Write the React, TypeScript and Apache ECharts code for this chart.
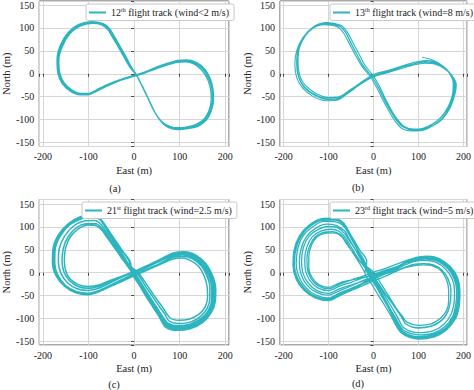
import React, { useEffect, useRef } from 'react';
import * as echarts from 'echarts';

const TEAL = '#2cb4bf';
const FONT = '"Liberation Serif", "DejaVu Serif", serif';

// Axis tick values
const xTicks = [-200, -100, 0, 100, 200];
const yTicks = [-150, -100, -50, 0, 50, 100, 150];

// Legend pieces
const legendNums = ['12', '13', '21', '23'];
const legendSups = ['th', 'th', 'st', 'rd'];
const legendRest = [
  ' flight track (wind<2 m/s)',
  ' flight track (wind=8 m/s)',
  ' flight track (wind=2.5 m/s)',
  ' flight track (wind=5 m/s)',
];
const captions = ['(a)', '(b)', '(c)', '(d)'];

// Panel (a): 12th flight track, three laps
const trackA1 = [[5,-2],[16,-24],[30,-53],[44,-82],[55,-99],[66,-111],[80,-118],[95,-120],[116,-118],[138,-113],[156,-100],[166,-82],[172,-57],[171,-35],[165,-13],[152,9],[134,23],[113,28],[95,27],[73,21],[44,11],[23,3],[0,-4],[-27,-12],[-56,-24],[-85,-38],[-100,-44],[-117,-44],[-138,-36],[-156,-20],[-165,1],[-167,30],[-160,60],[-142,89],[-120,106],[-92,112],[-70,109],[-56,99],[-45,81],[-34,63],[-20,38],[-6,12]];
const trackA2 = [[4,0],[15,-22],[29,-51],[43,-80],[54,-97],[66,-109],[81,-116],[96,-118],[117,-116],[137,-110],[154,-98],[164,-81],[169,-57],[168,-36],[162,-14],[149,7],[132,21],[112,26],[94,25],[72,19],[43,9],[22,1],[-1,-6],[-28,-14],[-57,-26],[-86,-40],[-101,-46],[-118,-46],[-140,-38],[-158,-21],[-167,1],[-169,31],[-162,62],[-144,91],[-121,108],[-93,114],[-69,110],[-55,100],[-44,83],[-33,64],[-19,39],[-5,13]];
const trackA3 = [[6,-4],[18,-27],[32,-56],[46,-85],[57,-102],[68,-113],[82,-120],[97,-122],[118,-120],[140,-115],[158,-102],[168,-84],[174,-58],[173,-34],[167,-11],[154,11],[136,25],[115,30],[96,29],[74,23],[45,13],[24,4],[1,-3],[-26,-11],[-55,-22],[-84,-36],[-99,-43],[-116,-43],[-137,-35],[-154,-19],[-163,2],[-165,29],[-158,58],[-141,87],[-119,104],[-91,110],[-71,107],[-58,97],[-47,79],[-36,61],[-22,36],[-7,11],[5,-2]];

// Panel (b): 13th flight track
const trackB1 = [[108,36],[128,31],[150,20],[168,2],[177,-20],[176,-42],[167,-70],[149,-96],[128,-112],[107,-121],[86,-122],[65,-116],[51,-102],[37,-80],[23,-55],[9,-27],[-5,-5],[-23,17],[-37,42],[-51,68],[-62,90],[-76,104],[-107,110],[-135,101],[-154,82],[-168,52],[-171,22],[-167,-7],[-155,-29],[-131,-47],[-103,-56],[-81,-55],[-54,-38],[-33,-24],[-12,-10],[9,-1],[34,5],[62,14],[90,22],[115,26]];
const trackB2 = [[136,23],[156,14],[174,-3],[181,-22],[178,-43],[169,-72],[151,-99],[130,-115],[108,-124],[86,-125],[64,-120],[49,-105],[35,-83],[21,-58],[7,-30],[-7,-7],[-25,15],[-40,40],[-54,66],[-66,88],[-80,102],[-110,107],[-138,98],[-157,79],[-171,50],[-175,21],[-171,-8],[-158,-31],[-134,-50],[-105,-59],[-83,-58],[-56,-42],[-35,-27],[-13,-13],[8,-4],[33,3],[61,11],[89,19],[114,23]];
const trackB3 = [[137,21],[158,11],[176,-6],[184,-24],[181,-45],[171,-73],[153,-99],[131,-114],[109,-122],[88,-123],[67,-117],[53,-103],[40,-80],[26,-54],[12,-25],[-2,-3],[-20,20],[-33,45],[-47,70],[-59,92],[-73,106],[-104,112],[-132,104],[-151,85],[-165,56],[-168,25],[-164,-4],[-152,-25],[-128,-43],[-100,-52],[-79,-51],[-52,-35],[-31,-21],[-10,-7],[10,2],[35,8],[63,17],[91,25],[116,29]];
const trackB4 = [[135,26],[154,17],[171,0],[179,-18],[178,-40],[169,-68],[152,-93],[131,-110],[110,-119],[89,-121],[68,-115],[54,-101],[39,-79],[24,-55],[10,-28],[-4,-6],[-22,16],[-36,41],[-50,67],[-61,89],[-75,104],[-106,109],[-134,100],[-153,81],[-167,51],[-170,21],[-166,-7],[-154,-28],[-130,-46],[-102,-55],[-80,-54],[-53,-37],[-32,-23],[-11,-9],[9,-1],[34,6],[62,15],[90,22],[114,26]];
const trackB5 = [[136,24],[156,13],[173,-4],[182,-22],[180,-44],[172,-70],[155,-95],[134,-112],[110,-122],[88,-124],[72,-118],[62,-112]];

// Panel (c): 21st flight track
const trackC1 = [[-1,0],[15,-25],[30,-50],[46,-75],[58,-95],[71,-116],[95,-123],[125,-119],[149,-106],[167,-86],[175,-61],[176,-35],[170,-8],[155,19],[134,37],[109,44],[85,41],[50,23],[25,11],[0,-2],[-25,-15],[-50,-27],[-75,-40],[-100,-48],[-128,-44],[-152,-30],[-170,-8],[-178,20],[-177,50],[-166,80],[-145,105],[-118,121],[-92,125],[-74,118],[-47,75],[-32,50],[-16,25]];
const trackC2 = [[-3,0],[13,-25],[28,-50],[44,-75],[56,-95],[70,-118],[95,-125],[125,-121],[150,-108],[168,-88],[177,-62],[178,-35],[172,-8],[157,20],[135,38],[110,45],[85,42],[50,25],[25,12],[0,-1],[-25,-14],[-50,-26],[-75,-39],[-100,-46],[-127,-42],[-151,-28],[-168,-7],[-176,21],[-174,50],[-163,80],[-143,104],[-116,119],[-91,123],[-74,115],[-49,75],[-34,50],[-18,25]];
const trackC3 = [[6,0],[22,-25],[39,-50],[56,-75],[67,-90],[76,-105],[97,-111],[123,-108],[145,-96],[160,-78],[166,-56],[166,-32],[160,-8],[147,15],[127,31],[106,36],[83,33],[50,17],[25,6],[0,-6],[-25,-17],[-50,-29],[-76,-41],[-101,-48],[-129,-43],[-153,-29],[-171,-7],[-179,21],[-178,51],[-167,81],[-146,106],[-119,122],[-93,125],[-73,117],[-45,75],[-28,50],[-11,25]];
const trackC4 = [[-6,0],[10,-25],[25,-50],[41,-75],[54,-95],[69,-119],[94,-126],[124,-122],[150,-109],[168,-89],[178,-63],[179,-36],[173,-9],[158,19],[136,38],[111,46],[86,43],[50,26],[25,14],[0,2],[-25,-9],[-50,-21],[-75,-33],[-100,-39],[-125,-35],[-146,-22],[-160,-2],[-166,24],[-164,53],[-153,79],[-134,101],[-109,113],[-87,114],[-72,105],[-53,75],[-37,50],[-22,25]];
const trackC5 = [[1,0],[17,-25],[33,-50],[49,-75],[62,-95],[73,-112],[96,-118],[124,-114],[148,-102],[164,-83],[172,-59],[172,-34],[166,-8],[152,18],[131,34],[108,41],[84,38],[50,22],[25,10],[0,-2],[-25,-14],[-50,-26],[-75,-38],[-100,-45],[-127,-41],[-150,-28],[-167,-6],[-174,21],[-173,51],[-162,80],[-142,104],[-115,118],[-91,122],[-73,114],[-48,75],[-32,50],[-16,25]];
const trackC6 = [[-5,0],[12,-25],[29,-50],[46,-75],[60,-95],[72,-114],[96,-120],[124,-117],[148,-104],[165,-85],[173,-60],[174,-34],[168,-8],[154,18],[132,36],[109,42],[84,39],[50,25],[25,14],[0,3],[-25,-8],[-50,-18],[-75,-29],[-100,-34],[-123,-30],[-142,-17],[-154,2],[-158,26],[-155,54],[-145,78],[-127,98],[-104,107],[-84,107],[-71,97],[-56,75],[-39,50],[-22,25]];
const trackC7 = [[9,0],[27,-25],[44,-50],[62,-75],[79,-99],[98,-104],[122,-101],[143,-90],[156,-74],[161,-53],[160,-31],[154,-8],[142,13],[123,27],[105,32],[82,29],[50,15],[25,4],[0,-7],[-25,-18],[-50,-29],[-76,-40],[-101,-47],[-128,-43],[-152,-29],[-169,-7],[-177,20],[-176,50],[-164,81],[-144,105],[-117,120],[-91,123],[-72,114],[-44,75],[-27,50],[-9,25]];
const trackC8 = [[-4,0],[13,-25],[30,-50],[48,-75],[62,-95],[74,-110],[96,-116],[124,-112],[147,-100],[163,-82],[170,-58],[170,-33],[164,-8],[150,17],[130,33],[108,39],[84,36],[50,23],[25,13],[0,3],[-25,-7],[-50,-16],[-75,-26],[-100,-30],[-122,-26],[-140,-14],[-150,5],[-153,28],[-150,55],[-140,78],[-122,96],[-100,104],[-82,102],[-70,92],[-58,75],[-40,50],[-22,25],[-4,0]];

// Panel (d): 23rd flight track
const trackD1 = [[-8,0],[5,-25],[18,-50],[32,-75],[42,-95],[62,-132],[100,-145],[135,-140],[162,-125],[182,-100],[190,-70],[192,-42],[186,-12],[170,12],[145,30],[118,35],[90,32],[50,12],[25,0],[0,-13],[-25,-25],[-50,-38],[-75,-50],[-100,-61],[-130,-55],[-155,-38],[-172,-14],[-179,15],[-177,48],[-165,80],[-143,104],[-115,118],[-88,119],[-66,108],[-48,75],[-35,50],[-22,25]];
const trackD2 = [[-7,0],[7,-25],[21,-50],[35,-75],[46,-95],[64,-128],[100,-140],[134,-135],[160,-121],[178,-97],[186,-69],[188,-41],[182,-13],[166,11],[143,27],[117,32],[90,29],[50,10],[25,-2],[0,-14],[-25,-25],[-50,-37],[-75,-49],[-100,-60],[-130,-54],[-154,-37],[-171,-13],[-177,16],[-175,49],[-163,80],[-141,103],[-114,117],[-87,117],[-66,106],[-49,75],[-35,50],[-21,25]];
const trackD3 = [[-9,0],[5,-25],[19,-50],[32,-75],[43,-95],[63,-131],[100,-143],[135,-138],[161,-124],[181,-99],[189,-70],[191,-42],[185,-12],[169,11],[144,29],[117,34],[90,31],[50,12],[25,0],[0,-12],[-25,-23],[-50,-35],[-75,-47],[-100,-58],[-129,-52],[-153,-35],[-169,-12],[-176,17],[-173,49],[-161,80],[-140,102],[-112,115],[-86,115],[-66,104],[-50,75],[-36,50],[-23,25]];
const trackD4 = [[-5,0],[10,-25],[25,-50],[40,-75],[52,-95],[68,-121],[100,-131],[132,-127],[156,-113],[172,-92],[179,-66],[180,-40],[175,-14],[160,8],[138,23],[114,27],[89,24],[50,8],[25,-3],[0,-13],[-25,-23],[-50,-34],[-75,-44],[-100,-55],[-128,-49],[-151,-32],[-166,-9],[-172,19],[-169,50],[-157,80],[-136,100],[-110,112],[-85,111],[-65,100],[-50,75],[-35,50],[-20,25]];
const trackD5 = [[-11,0],[3,-25],[17,-50],[32,-75],[43,-95],[63,-129],[100,-142],[134,-137],[160,-122],[180,-98],[187,-69],[189,-42],[183,-12],[168,11],[143,28],[117,33],[90,30],[50,13],[25,3],[0,-8],[-25,-18],[-50,-29],[-75,-39],[-100,-49],[-127,-43],[-148,-27],[-161,-4],[-165,23],[-161,53],[-149,79],[-129,97],[-104,106],[-82,103],[-64,91],[-55,75],[-40,50],[-26,25]];
const trackD6 = [[-5,0],[12,-25],[29,-50],[47,-75],[61,-95],[72,-112],[100,-121],[129,-117],[151,-105],[165,-86],[171,-63],[172,-39],[166,-15],[153,5],[133,17],[111,20],[89,18],[50,5],[25,-3],[0,-11],[-25,-19],[-50,-27],[-75,-35],[-100,-45],[-126,-39],[-145,-23],[-157,-1],[-160,26],[-156,55],[-144,79],[-124,94],[-100,101],[-79,98],[-64,85],[-57,75],[-40,50],[-23,25]];
const trackD7 = [[-14,0],[2,-25],[18,-50],[34,-75],[47,-95],[66,-125],[100,-136],[133,-132],[158,-118],[176,-95],[183,-68],[185,-41],[179,-13],[164,10],[141,26],[116,30],[90,27],[50,13],[25,5],[0,-4],[-25,-12],[-50,-21],[-75,-29],[-100,-39],[-124,-33],[-142,-17],[-151,4],[-153,30],[-148,57],[-136,79],[-117,91],[-95,95],[-76,90],[-63,77],[-46,50],[-30,25]];
const trackD8 = [[-10,0],[9,-25],[29,-50],[48,-75],[64,-95],[74,-108],[100,-115],[128,-112],[148,-100],[162,-83],[167,-62],[167,-39],[162,-15],[150,4],[131,15],[110,17],[88,15],[50,6],[25,0],[0,-5],[-25,-11],[-50,-16],[-75,-22],[-100,-32],[-122,-26],[-137,-10],[-144,10],[-144,35],[-138,60],[-126,78],[-108,86],[-88,87],[-72,80],[-62,66],[-50,50],[-30,25]];
const trackD9 = [[1,0],[17,-25],[33,-50],[49,-75],[62,-95],[72,-112],[100,-120],[129,-116],[151,-104],[165,-85],[171,-62],[172,-38],[166,-14],[153,5],[133,17],[111,20],[89,18],[50,3],[25,-8],[0,-18],[-25,-29],[-50,-39],[-75,-49],[-100,-59],[-130,-53],[-154,-36],[-171,-12],[-178,16],[-176,49],[-164,80],[-142,104],[-115,117],[-88,117],[-66,106],[-46,75],[-31,50],[-15,25]];
const trackD10 = [[-19,0],[-4,-25],[11,-50],[27,-75],[39,-95],[62,-132],[100,-144],[136,-139],[163,-124],[183,-99],[191,-69],[192,-41],[187,-11],[171,13],[146,31],[119,36],[90,32],[50,18],[25,9],[0,1],[-25,-8],[-50,-16],[-75,-25],[-100,-35],[-123,-29],[-139,-13],[-147,8],[-148,33],[-142,59],[-130,78],[-112,88],[-91,90],[-74,84],[-62,70],[-50,50],[-34,25],[-19,0]];

const tracks = [
  [trackA1, trackA2, trackA3],
  [trackB1, trackB2, trackB3, trackB4, trackB5],
  [trackC1, trackC2, trackC3, trackC4, trackC5, trackC6, trackC7, trackC8],
  [trackD1, trackD2, trackD3, trackD4, trackD5, trackD6, trackD7, trackD8, trackD9, trackD10],
];
const lineWidths = [1.3, 1.1, 1.5, 1.3];

const grids = [
  { left: 36, top: 1, width: 193, height: 145.5 },
  { left: 280, top: 1, width: 192, height: 145.5 },
  { left: 35.5, top: 199.5, width: 193.5, height: 145.5 },
  { left: 280, top: 199.5, width: 192, height: 145.5 },
];
const yRanges = [[-159, 159], [-159, 159], [-158, 160], [-158, 160]];
const legendPos = [
  { left: 86, top: 4 },
  { left: 330, top: 4 },
  { left: 82, top: 202 },
  { left: 330, top: 202 },
];
const captionPos = [[115, 188], [358, 187], [114, 384], [358, 383]];

export default function App() {
  const ref = useRef<HTMLDivElement>(null);
  useEffect(() => {
    if (!ref.current) return;
    const chart = echarts.init(ref.current, null, { renderer: 'svg' });
    const names = legendNums.map((n, i) => n + legendSups[i] + legendRest[i]);
    const tickFmt = (list: number[]) => (v: number) =>
      list.includes(Math.round(v)) && Math.abs(v - Math.round(v)) < 1e-6 ? String(v) : '';
    const option: any = {
      animation: false,
      backgroundColor: '#ffffff',
      grid: grids.map((g) => ({
        ...g,
        show: true,
        backgroundColor: '#ffffff',
        borderColor: '#555555',
        borderWidth: 1,
        containLabel: false,
      })),
      xAxis: grids.map((_, i) => ({
        gridIndex: i,
        type: 'value',
        min: -208,
        max: 208,
        minInterval: 100,
        maxInterval: 100,
        splitNumber: 4,
        axisLine: { show: false },
        axisTick: { show: true, inside: false, length: 3, lineStyle: { color: '#444', width: 1 } },
        axisLabel: {
          formatter: tickFmt(xTicks),
          fontSize: 10,
          fontFamily: FONT,
          color: '#222',
          margin: 5,
        },
        splitLine: { show: true, lineStyle: { color: '#d6d6d6', width: 1 } },
        name: 'East (m)',
        nameLocation: 'middle',
        nameGap: 18,
        nameTextStyle: { fontSize: 10.5, fontFamily: FONT, color: '#222' },
      })),
      yAxis: grids.map((_, i) => ({
        gridIndex: i,
        type: 'value',
        min: yRanges[i][0],
        max: yRanges[i][1],
        minInterval: 50,
        maxInterval: 50,
        splitNumber: 6,
        axisLine: { show: false },
        axisTick: { show: true, inside: false, length: 3, lineStyle: { color: '#444', width: 1 } },
        axisLabel: {
          formatter: tickFmt(yTicks),
          fontSize: 10,
          fontFamily: FONT,
          color: '#222',
          margin: 5,
        },
        splitLine: { show: true, lineStyle: { color: '#d6d6d6', width: 1 } },
        name: 'North (m)',
        nameLocation: 'middle',
        nameGap: 27,
        nameTextStyle: { fontSize: 10.5, fontFamily: FONT, color: '#222' },
      })),
      legend: grids.map((_, i) => ({
        data: [{ name: names[i], icon: 'rect' }],
        left: legendPos[i].left,
        top: legendPos[i].top,
        itemWidth: 17,
        itemHeight: 2,
        itemGap: 0,
        padding: [3, 5, 3, 3],
        backgroundColor: '#ffffff',
        borderColor: '#c8c8c8',
        borderWidth: 1,
        borderRadius: 2,
        selectedMode: false,
        formatter: () => `{n|${legendNums[i]}}{s|${legendSups[i]}}{n|${legendRest[i]}}`,
        textStyle: {
          fontFamily: FONT,
          fontSize: 10,
          color: '#222',
          rich: {
            n: { fontFamily: FONT, fontSize: 10, color: '#222' },
            s: { fontFamily: FONT, fontSize: 6, color: '#222', padding: [0, 0, 5, 0] },
          },
        },
      })),
      series: tracks.map((laps, i) => ({
        type: 'line',
        name: names[i],
        xAxisIndex: i,
        yAxisIndex: i,
        data: laps.flat(),
        showSymbol: false,
        symbol: 'none',
        smooth: 0.3,
        clip: true,
        silent: true,
        lineStyle: { color: TEAL, width: lineWidths[i] },
        itemStyle: { color: TEAL },
      })),
      graphic: captions.map((c, i) => ({
        type: 'text',
        x: captionPos[i][0],
        y: captionPos[i][1],
        style: {
          text: c,
          fontFamily: FONT,
          fontSize: 10.5,
          fill: '#222',
          textAlign: 'center',
          textVerticalAlign: 'middle',
          verticalAlign: 'middle',
        },
      })),
    };
    chart.setOption(option);
    return () => chart.dispose();
  }, []);
  return (
    <div
      ref={ref}
      style={{ position: 'absolute', left: 0, top: 0, width: 474, height: 390 }}
    />
  );
}
